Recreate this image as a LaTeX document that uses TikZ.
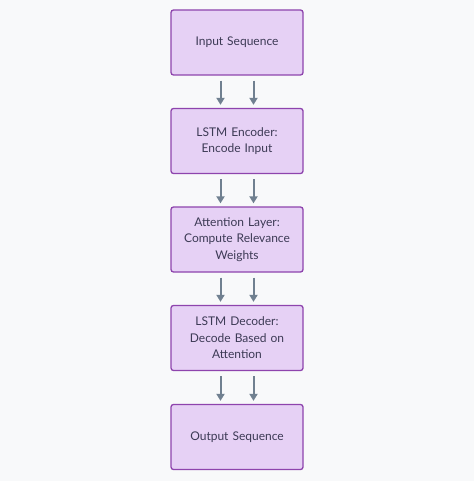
\documentclass[tikz,border=0pt]{standalone}
\usepackage{fontspec}
\setmainfont{Lato}
\usetikzlibrary{positioning, arrows, shapes, arrows.meta}
\definecolor{bgcol}{RGB}{248,249,250}
\definecolor{boxfill}{RGB}{230,209,245}
\definecolor{boxline}{RGB}{142,68,173}
\definecolor{arrcol}{RGB}{112,128,144}
\definecolor{txtcol}{RGB}{60,58,85}
\begin{document}
\begin{tikzpicture}[x=1pt,y=-1pt]\tikzset{every node/.style={font=\fontsize{12}{16.5}\selectfont, text=txtcol}, block/.style={draw=boxline, line width=1.3pt, fill=boxfill, rounded corners=2.5pt, minimum width=132pt, minimum height=65pt, align=center, text width=125pt}, flow/.style={-{Triangle[length=7pt,width=8pt]}, draw=arrcol, line width=2pt, shorten <=5pt, shorten >=3pt}, }
	\fill[bgcol] (0,0) rectangle (474,481);
	\useasboundingbox (0,0) rectangle (474,481);
	\node[block] (in) at (237,42.5) {Input Sequence};
	\node[block] (enc) at (237,141) {LSTM Encoder:\\Encode Input};
	\node[block] (att) at (237,239.5) {Attention Layer:\\Compute Relevance\\Weights};
	\node[block] (dec) at (237,338) {LSTM Decoder:\\Decode Based on\\Attention};
	\node[block] (out) at (237,437) {Output Sequence};
	\foreach \a/\b in {in/enc, enc/att, att/dec, dec/out} {
		\path[flow] ([xshift=-16.5pt]\a.south) -- ([xshift=-16.5pt]\b.north);
		\path[flow] ([xshift=16.5pt]\a.south) -- ([xshift=16.5pt]\b.north);
	}
\end{tikzpicture}
\end{document}
